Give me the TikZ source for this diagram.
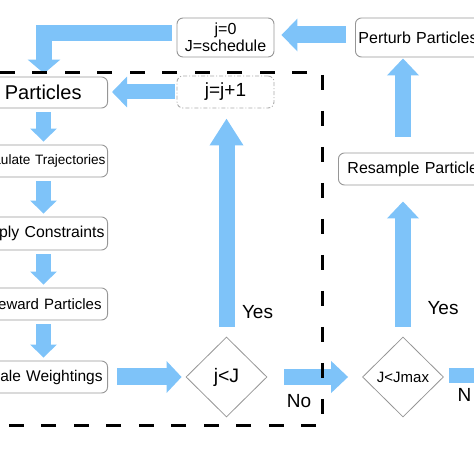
\documentclass[tikz,border=0pt]{standalone}
\usepackage{fontspec}
\setmainfont{Liberation Sans}
\usetikzlibrary{arrows.meta,shapes.geometric,calc}
\definecolor{ablue}{RGB}{126,195,249}
\definecolor{bgray}{RGB}{150,150,150}
\begin{document}
\begin{tikzpicture}[x=1pt,y=1pt,
  box/.style={draw=bgray, line width=0.9pt, rounded corners=6pt, inner ysep=0pt},
  dec/.style={diamond, draw=bgray, line width=0.8pt, minimum width=81pt, minimum height=80pt, inner sep=0pt, aspect=1},
  barrow/.style n args={3}{draw=ablue, line width=#1, line join=miter, -{Triangle[width=#2,length=#3]}},
  dsh/.style={draw=black, line width=3pt, dash pattern=on 15pt off 17.5pt},
  dshv/.style={draw=black, line width=3pt, dash pattern=on 15pt off 21pt},
  lbl/.style={inner sep=0pt, font=\fontsize{19pt}{22pt}\selectfont}
]
\useasboundingbox (0,0) rectangle (474,474);
\clip (0,0) rectangle (474,474);

% left column
\node[box, anchor=east, text width=116pt, align=right, inner xsep=26pt, minimum height=31pt, font=\fontsize{20pt}{24pt}\selectfont] (p0) at (108,381.5) {Particles};
\node[box, anchor=east, text width=164pt, align=right, inner xsep=2pt, minimum height=32pt, font=\fontsize{13.6pt}{16pt}\selectfont] (ct) at (108,313) {aulate Trajectories};
\node[box, anchor=east, text width=162pt, align=right, inner xsep=3pt, minimum height=33pt, font=\fontsize{15.8pt}{19pt}\selectfont] (ac) at (108,240.5) {ply Constraints};
\node[box, anchor=east, text width=156pt, align=right, inner xsep=6pt, minimum height=32pt, font=\fontsize{15pt}{18pt}\selectfont] (rp) at (108,170) {eward Particles};
\node[box, anchor=east, text width=158pt, align=right, inner xsep=5pt, minimum height=32pt, font=\fontsize{15.5pt}{18pt}\selectfont] (sw) at (108,97) {ale Weightings};

% middle
\node[box, minimum width=97pt, minimum height=39pt, inner xsep=0pt, align=center, font=\fontsize{16pt}{17.5pt}\selectfont] (j0) at (225.5,436.5) {j=0\\J=schedule};
\node[box, draw=bgray!80, dash pattern=on 4pt off 2pt on 1pt off 2pt, minimum width=97pt, minimum height=32pt, font=\fontsize{19pt}{22pt}\selectfont] (jj1) at (225.5,382) {j=j+1};
\node[dec, font=\fontsize{19.5pt}{22pt}\selectfont] (jJ) at (226.5,97) {j<J};

% right
\node[box, anchor=west, text width=180pt, align=left, inner xsep=3pt, minimum height=39pt, font=\fontsize{16pt}{19pt}\selectfont] (pp) at (355,436.5) {Perturb Particles};
\node[box, anchor=west, text width=180pt, align=left, inner xsep=9pt, minimum height=32pt, font=\fontsize{16pt}{19pt}\selectfont] (rs) at (338,305) {Resample Particles};
\node[dec, font=\fontsize{15pt}{18pt}\selectfont] (JJ) at (403,97) {J<Jmax};

% labels
\node[lbl] (yes1) at (257.5,162) {Yes};
\node[lbl] (no1) at (299,73) {No};
\node[lbl] (yes2) at (443,166) {Yes};
\node[lbl, anchor=west] (no2) at (457.5,79) {N};

\coordinate (ax) at (43.5,0);
\coordinate (out) at (500,98.5);

% arrows
\draw[barrow={15pt}{26pt}{13pt}] ($(p0.south -| ax)+(0,-4)$) -- ($(ct.north -| ax)+(0,3)$);
\draw[barrow={15pt}{26pt}{13pt}] ($(ct.south -| ax)+(0,-4)$) -- ($(ac.north -| ax)+(0,3)$);
\draw[barrow={15pt}{26pt}{13pt}] ($(ac.south -| ax)+(0,-4)$) -- ($(rp.north -| ax)+(0,3)$);
\draw[barrow={15pt}{26pt}{13pt}] ($(rp.south -| ax)+(0,-4)$) -- ($(sw.north -| ax)+(0,3)$);
\draw[barrow={17pt}{31pt}{15pt}] ($(sw.east)+(9,0)$) -- ($(jJ.west)+(-4,0)$);
\draw[barrow={16pt}{32pt}{27pt}] ($(jJ.north)+(0,10)$) -- ($(jj1.south -| jJ.north)+(0,-10)$);
\draw[barrow={15pt}{30pt}{15pt}] ($(jj1.west)+(-2,0)$) -- ($(p0.east |- jj1.west)+(4,0)$);
\draw[barrow={16pt}{32pt}{14pt}] ($(j0.west)+(-5,4.5)$) -| ($(p0.north -| ax)+(0.5,3)$);
\draw[barrow={17pt}{32pt}{16pt}] ($(pp.west)+(-9,2.5)$) -- ($(j0.east)+(7,2.5)$);
\draw[barrow={16pt}{31pt}{17pt}] ($(rs.north -| JJ.north)+(0,16)$) -- ($(pp.south -| JJ.north)+(0,-1)$);
\draw[barrow={16pt}{31pt}{17pt}] ($(JJ.north)+(0,10)$) -- ($(rs.south -| JJ.north)+(0,-16)$);
\draw[barrow={16pt}{31pt}{17pt}] ($(jJ.east)+(17,0)$) -- ($(JJ.west)+(-14,0)$);
\draw[draw=ablue, line width=15pt] ($(JJ.east)+(5,1.5)$) -- (out);

% dashed frame
\draw[dsh] (307,401) -- (-10,401);
\draw[dshv] (322,399) -- (322,40);
\draw[dsh] (316,48) -- (-10,48);
\end{tikzpicture}
\end{document}
